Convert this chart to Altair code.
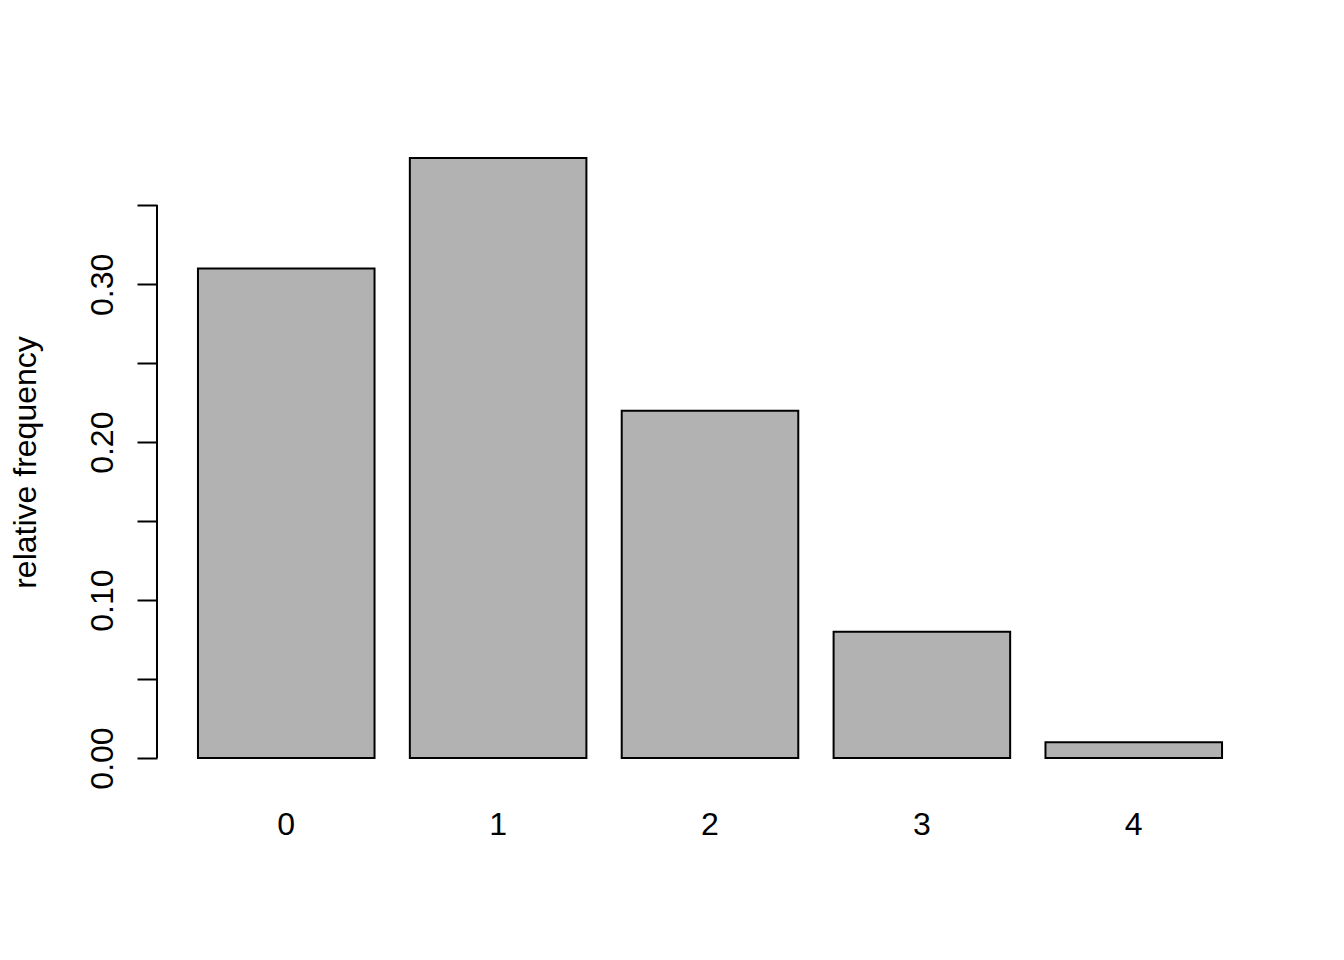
import altair as alt
import pandas as pd

categories = ["0", "1", "2", "3", "4"]
rel_freq = [0.31, 0.38, 0.22, 0.08, 0.01]
y_ticks = [0.0, 0.05, 0.10, 0.15, 0.20, 0.25, 0.30, 0.35]

df = pd.DataFrame({"k": categories, "f": rel_freq})

FONT = "Liberation Sans"
FS = 32

xscale = alt.Scale(domain=categories, paddingInner=0.2 / 1.2, paddingOuter=0.232 / 1.2)
yscale = alt.Scale(domain=[-0.0152, 0.3952], nice=False, zero=False)

bars = alt.Chart(df).mark_bar(
    fill="#B2B2B2", stroke="black", strokeWidth=2
).encode(
    x=alt.X("k:N", scale=xscale, sort=categories,
            axis=alt.Axis(title=None, domain=False, ticks=False, tickSize=0,
                          labelAngle=0, labelFont=FONT, labelFontSize=FS,
                          labelColor="black", labelBaseline="alphabetic",
                          labelPadding=52)),
    y=alt.Y("f:Q", scale=yscale,
            axis=alt.Axis(title="relative frequency", values=y_ticks,
                          domain=False, ticks=True, tickSize=20, tickWidth=2,
                          tickColor="black", grid=False,
                          labelExpr="round(datum.value*20) % 2 == 0 ? format(datum.value, '.2f') : ''",
                          labelAngle=270, labelAlign="center",
                          labelBaseline="alphabetic", labelPadding=25,
                          labelFont=FONT, labelFontSize=FS, labelColor="black",
                          labelOverlap=False,
                          titleFont=FONT, titleFontSize=FS, titleFontWeight="normal",
                          titleColor="black", titleAngle=270,
                          titleBaseline="middle", titleX=-132, titleY=328)),
    y2=alt.Y2(datum=0),
)

axis_line = alt.Chart(df).mark_rule(color="black", strokeWidth=2).encode(
    x=alt.value(0),
    y=alt.datum(0.0, scale=yscale),
    y2=alt.datum(0.35),
)

chart = alt.layer(bars, axis_line).properties(
    width=1106, height=648,
    autosize=alt.AutoSizeParams(type="none"),
    padding={"left": 149, "top": 126, "right": 60, "bottom": 150},
    background="white",
).configure_view(stroke=None)

chart.save("out.html", embed_options={"renderer": "svg", "actions": False})
